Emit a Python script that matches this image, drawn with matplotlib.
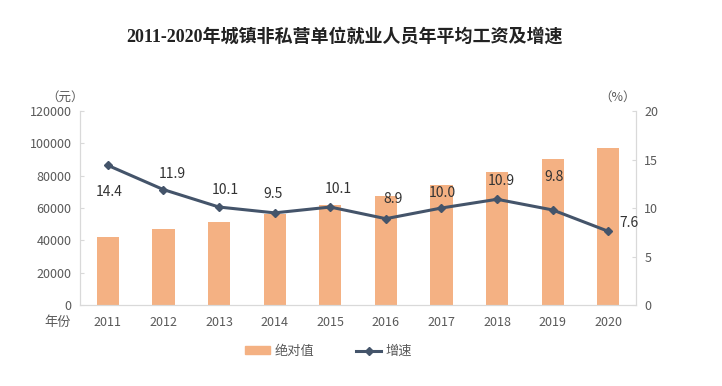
import matplotlib
matplotlib.use("Agg")
import matplotlib.pyplot as plt
from matplotlib.patches import Patch
from matplotlib.lines import Line2D

plt.rcParams['font.family'] = ['Noto Sans CJK SC', 'DejaVu Sans']

years = ["2011", "2012", "2013", "2014", "2015", "2016", "2017", "2018", "2019", "2020"]
wages = [41799, 46769, 51483, 56360, 62029, 67569, 74318, 82413, 90501, 97379]
growth = [14.4, 11.9, 10.1, 9.5, 10.1, 8.9, 10.0, 10.9, 9.8, 7.6]

# where each data label sits relative to its point (points)
label_offsets = [(1, -19.5), (6.5, 11.5), (4.3, 12), (-1.4, 13.7), (5.8, 13),
                 (5, 14.4), (0.7, 11), (2.9, 13), (0.7, 23.8), (15, 5.8)]

bar_color = "#F4B183"
line_color = "#44546A"
text_color = "#595959"
spine_color = "#D9D9D9"

fig = plt.figure(figsize=(7.22, 3.86), dpi=100)
ax = fig.add_axes([0.1108, 0.2098, 0.7702, 0.5026])
ax2 = ax.twinx()

x = list(range(len(years)))
ax.bar(x, wages, width=0.4, color=bar_color, zorder=1)
ax.set_xlim(-0.5, 9.5)
ax.set_ylim(0, 120000)
ax.set_yticks(range(0, 120001, 20000))
ax.set_xticks(x)
ax.set_xticklabels(years)

ax2.plot(x, growth, color=line_color, lw=2.2, marker="D", markersize=4, zorder=3)
ax2.set_ylim(0, 20)
ax2.set_yticks(range(0, 21, 5))

for i, g in enumerate(growth):
    ax2.annotate(f"{g:.1f}", (i, g), xytext=label_offsets[i], textcoords="offset points",
                 ha="center", va="center", fontsize=10, color="#333333")

for a in (ax, ax2):
    a.spines["top"].set_visible(False)
    for s in ("left", "right", "bottom"):
        a.spines[s].set_color(spine_color)
    a.tick_params(colors=text_color, labelsize=9, length=0, pad=6)
ax.tick_params(axis="y", direction="in", length=3, color=spine_color)
ax2.tick_params(axis="y", direction="in", length=3, color=spine_color)
ax.tick_params(axis="x", pad=8)

fig.text(0.477, 0.905, "2011-2020年城镇非私营单位就业人员年平均工资及增速",
         ha="center", va="center", fontsize=13, fontweight="bold", color="#222222",
         family=["Liberation Serif", "Noto Sans CJK SC"])
fig.text(0.09, 0.748, "（元）", ha="center", va="center", fontsize=9, color=text_color)
fig.text(0.855, 0.748, "（%）", ha="center", va="center", fontsize=9, color=text_color)
fig.text(0.08, 0.165, "年份", ha="center", va="center", fontsize=9.5, color=text_color)

handles = [Patch(color=bar_color), Line2D([], [], color=line_color, lw=2.2, marker="D", markersize=4)]
fig.legend(handles, ["绝对值", "增速"], loc="center", bbox_to_anchor=(0.455, 0.09), ncol=2,
           frameon=False, fontsize=9.5, labelcolor=text_color, handlelength=1.9,
           handleheight=0.5, columnspacing=3.2, handletextpad=0.3)

fig.savefig("out.png", dpi=100)
